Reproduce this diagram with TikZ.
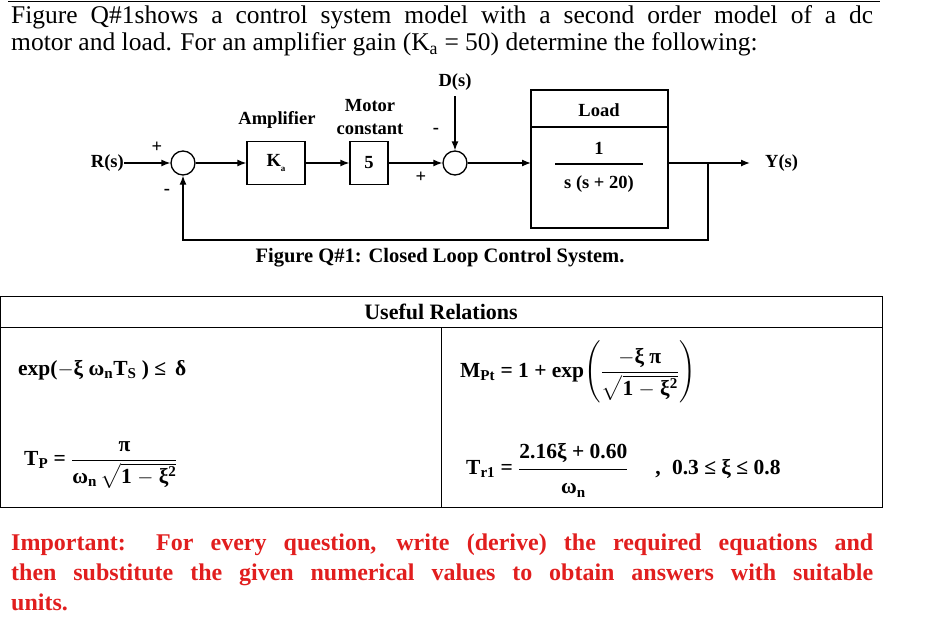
\documentclass[tikz,border=0pt]{standalone}
\usepackage{fontspec}
\usepackage{amsmath}
\setmainfont{Liberation Serif}
\usetikzlibrary{arrows.meta}
\definecolor{redtxt}{RGB}{225,30,30}
\begin{document}
\begin{tikzpicture}[x=1pt,y=-1pt,
  lab/.style={font=\bfseries\fontsize{18.5}{20}\selectfont,inner sep=0},
  blk/.style={draw,line width=1.3pt,inner sep=0},
  sumc/.style={draw,circle,line width=1.3pt,minimum size=24pt,inner sep=0},
  sig/.style={line width=1.3pt,-{Latex[length=9pt,width=7pt]}},
  ln/.style={line width=1.3pt},
  frm/.style={font=\bfseries\fontsize{21.5}{25}\selectfont,inner sep=0,anchor=west}]
\useasboundingbox (0,0) rectangle (951,640);
\draw[line width=0.8pt] (8,1) -- (880,1);
\node[anchor=north west,text width=862pt,align=justify,inner sep=0,font=\fontsize{25.5}{27.5}\selectfont] (intro) at (11,5)
 {\hyphenpenalty=10000 Figure Q\#1shows a control system model with a second order model of a dc\linebreak motor and load. For an amplifier gain (K\textsubscript{a} = 50) determine the following:};
% block diagram
\node[lab] (ds) at (455,82) {D(s)};
\node[lab] (amp) at (277,120) {Amplifier};
\node[lab,align=center] (mot) at (370,117) {Motor\\[3pt]constant};
\node[lab,anchor=east] (rs) at (124,163) {R(s)};
\node[sumc] (s1) at (183,163) {};
\node[blk,minimum width=58pt,minimum height=43pt,font=\bfseries\fontsize{18.5}{20}\selectfont] (ka) at (276,163) {K\raisebox{-5pt}{\small a}};
\node[blk,minimum width=38pt,minimum height=43pt,font=\bfseries\fontsize{18.5}{20}\selectfont] (k5) at (369,163) {5};
\node[sumc] (s2) at (455,163) {};
\node[blk,minimum width=137pt,minimum height=138pt] (load) at (599.5,159) {};
\draw[ln] (531,127) -- (668,127);
\node[lab] (lt) at (599,110) {Load};
\node[lab] (num) at (599,148) {1};
\draw[ln] (555,164) -- (643,164);
\node[lab] (den) at (599,184) {s (s + 20)};
\node[lab,anchor=west] (ys) at (765,163) {Y(s)};
\coordinate (dtop) at (455,96);
\coordinate (lin) at (531,163);
\coordinate (lout) at (668,163);
\coordinate (br) at (708,163);
\coordinate (bb) at (708,240);
\coordinate (bl) at (183,240);
\coordinate (yend) at (750,163);
\draw[sig] (rs.east) -- (s1.west);
\draw[sig] (s1.east) -- (ka.west);
\draw[sig] (ka.east) -- (k5.west);
\draw[sig] (k5.east) -- (s2.west);
\draw[sig] (dtop) -- (s2.north);
\draw[sig] (s2.east) -- (lin);
\draw[sig] (lout) -- (yend);
\draw[sig] (br) -- (bb) -- (bl) -- (s1.south);
\node[lab] (p1) at (157,147) {+};
\node[lab] (m1) at (167,192) {-};
\node[lab] (m2) at (436,131) {-};
\node[lab] (p2) at (421,177) {+};
\node[lab,font=\bfseries\fontsize{20.5}{22}\selectfont] (cap) at (440,258) {Figure Q\#1: Closed Loop Control System.};
% table
\draw[line width=0.9pt] (0,296) rectangle (882,507);
\draw[line width=0.9pt] (0,327) -- (882,327);
\draw[line width=0.9pt] (441,327) -- (441,507);
\node[lab,font=\bfseries\fontsize{22}{24}\selectfont] (ur) at (441,312) {Useful Relations};
\node[frm] (f1) at (18,370) {exp($-$ξ ω\textsubscript{n}T\textsubscript{S} ) ≤\, δ};
\node[frm] (f2) at (460,372) {M\textsubscript{Pt} = 1 + exp$\left(\dfrac{\textbf{$-$ξ π}}{\sqrt{\textbf{1 $-$ ξ\textsuperscript{2}}}}\right)$};
\node[frm] (f3) at (24,465) {T\textsubscript{P} = $\dfrac{\textbf{π}}{\textbf{ω\textsubscript{n}}\,\sqrt{\textbf{1 $-$ ξ\textsuperscript{2}}}}$};
\node[frm] (f4) at (466,470) {T\textsubscript{r1} = $\dfrac{\textbf{2.16ξ + 0.60}\rule[-8pt]{0pt}{10pt}}{\rule{0pt}{22pt}\textbf{ω\textsubscript{n}}}$ \quad ,\; 0.3 ≤ ξ ≤ 0.8};
% important
\node[anchor=north west,text width=862pt,align=justify,inner sep=0,text=redtxt,font=\bfseries\fontsize{24}{30}\selectfont] (imp) at (11,534)
 {\hyphenpenalty=10000 Important: For every question, write (derive) the required equations and\linebreak then substitute the given numerical values to obtain answers with suitable\linebreak units.};
\end{tikzpicture}
\end{document}
